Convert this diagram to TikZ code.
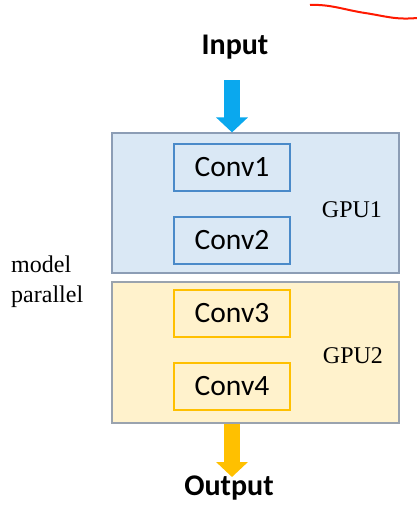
\documentclass[tikz,border=0pt]{standalone}
\usepackage{fontspec}
\setmainfont{Liberation Serif}
\newfontfamily\calib{Carlito}
\usetikzlibrary{arrows.meta}
\definecolor{gpuonefill}{HTML}{DAE8F5}
\definecolor{gpuoneline}{HTML}{8C9DB5}
\definecolor{convblue}{HTML}{4A8AC9}
\definecolor{gputwofill}{HTML}{FFF2CC}
\definecolor{gputwoline}{HTML}{9AA3AE}
\definecolor{convyellow}{HTML}{FFC000}
\definecolor{arrowblue}{HTML}{0AA8EE}
\tikzset{
  gpubox/.style={draw, line width=1.2pt, minimum width=287pt, minimum height=140pt, inner sep=0pt},
  convbox/.style={draw, line width=2pt, minimum width=116pt, minimum height=47pt, inner sep=0pt, font=\calib\fontsize{29.5}{32}\selectfont},
  gpulabel/.style={font=\fontsize{24}{28}\selectfont},
  iolabel/.style={font=\calib\bfseries\fontsize{30}{34}\selectfont, anchor=base},
  bigarrow/.style={line width=16pt, -{Triangle[width=31pt,length=15pt]}}
}
\begin{document}
\begin{tikzpicture}[x=1pt,y=-1pt]
\useasboundingbox (0,0) rectangle (417,506);
\fill[white] (0,0) rectangle (417,506);
\draw[red!80!orange, line width=2pt] (310,5) .. controls (330,4) and (345,10) .. (365,13) .. controls (385,16) and (395,20) .. (417,18);
\node[gpubox, fill=gpuonefill, draw=gpuoneline] (gpu1) at (255.5,203) {};
\node[gpubox, fill=gputwofill, draw=gputwoline, minimum height=141pt] (gpu2) at (255.5,352.5) {};
\node[convbox, draw=convblue] (c1) at (232,167.5) {Conv1};
\node[convbox, draw=convblue] (c2) at (232,240.5) {Conv2};
\node[convbox, draw=convyellow] (c3) at (232,313) {Conv3};
\node[convbox, draw=convyellow] (c4) at (232,386) {Conv4};
\node[gpulabel] (g1l) at (352,210) {GPU1};
\node[gpulabel] (g2l) at (353,356) {GPU2};
\node[font=\fontsize{24}{30}\selectfont, align=left, anchor=west, inner sep=0pt] (mp) at (11,282) {model\\parallel};
\node[iolabel] (in) at (235,54.3) {Input};
\node[iolabel] (out) at (229,495.5) {Output};
\coordinate (inS) at (232,80);
\coordinate (outE) at (232,477);
\draw[bigarrow, arrowblue] (inS) -- (gpu1.north -| inS);
\draw[bigarrow, convyellow] (gpu2.south -| outE) -- (outE);
\end{tikzpicture}
\end{document}
